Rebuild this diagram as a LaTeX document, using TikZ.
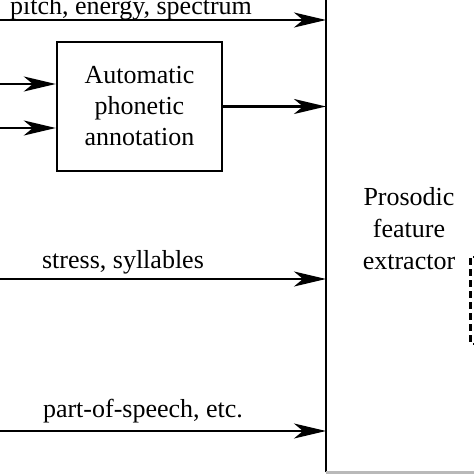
\documentclass[tikz,border=0pt]{standalone}
\usepackage{fontspec}
\setmainfont{Liberation Serif}
\usetikzlibrary{arrows.meta,positioning}
\begin{document}
\begin{tikzpicture}[x=1pt,y=1pt,
	sig/.style={line width=2.4pt,-{Stealth[length=32pt,width=15pt,inset=9pt]}},
	blk/.style={draw,line width=2.4pt,align=center,font=\fontsize{26}{31}\selectfont},
	lbl/.style={anchor=base,font=\fontsize{26}{31}\selectfont}]
	\useasboundingbox (0,0) rectangle (474,474);
	
	% extractor box, only its lower left part is in view
	\node[minimum width=300,minimum height=600,anchor=south west,inner sep=0pt] (pfe) at (326,1.5) {};
	\draw[line width=2.4pt] (pfe.south west) -- (pfe.north west);
	\draw[line width=2.4pt,gray!55] (pfe.south west) -- (pfe.south east);
	\node[align=center,font=\fontsize{26}{32}\selectfont] (pfetext) at (409,245) {Prosodic\\feature\\extractor};
	% next block, dashed, at the right edge
	\coordinate (nxtNW) at (470.5,217);
	\coordinate (nxtSW) at (470.5,130);
	\draw[line width=2.6pt,dash pattern=on 7pt off 4pt] (480,217) -- (nxtNW) -- (nxtSW) -- (480,130);
	
	\node[blk,minimum width=165,minimum height=129] (apa) at (139.5,367.5) {Automatic\\phonetic\\annotation};
	
	\coordinate (InPitch)  at (-5,454);
	\coordinate (InA)      at (-5,390);
	\coordinate (InB)      at (-5,346);
	\coordinate (InStress) at (-5,195);
	\coordinate (InPos)    at (-5,43);
	
	\draw[sig] (InPitch) -- (InPitch -| pfe.west);
	\node[lbl] (lpitch) at (131,459) {pitch, energy, spectrum};
	\draw[sig] (InA) -- (InA -| apa.west);
	\draw[sig] (InB) -- (InB -| apa.west);
	\draw[sig] (apa.east) -- (apa.east -| pfe.west);
	\draw[sig] (InStress) -- (InStress -| pfe.west);
	\node[lbl] (lstress) at (123,205) {stress, syllables};
	\draw[sig] (InPos) -- (InPos -| pfe.west);
	\node[lbl] (lpos) at (143,56) {part-of-speech, etc.};
\end{tikzpicture}
\end{document}
